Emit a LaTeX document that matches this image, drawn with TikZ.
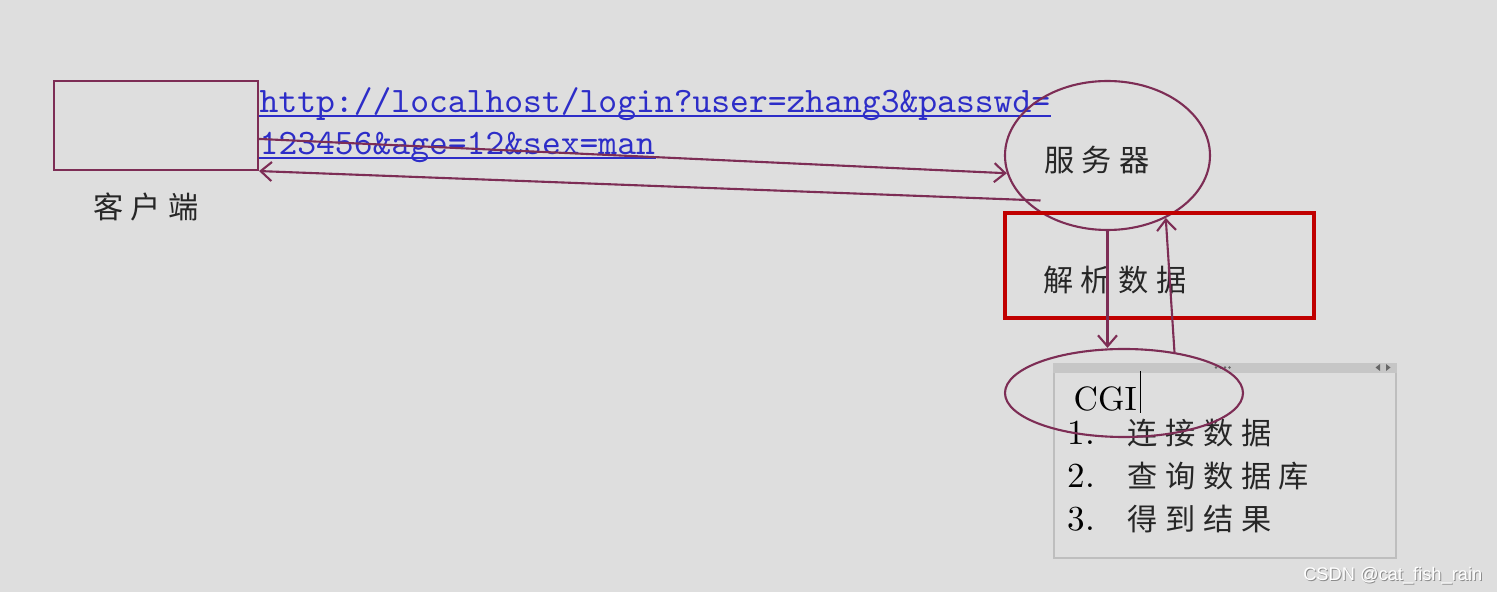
\documentclass[tikz,border=0pt]{standalone}
\usepackage{fontspec}
\newfontfamily\cjk[LetterSpace=25]{Noto Sans CJK SC}
\newfontfamily\marque{Liberation Sans}
\usetikzlibrary{calc}
\usetikzlibrary{arrows.meta}
\usetikzlibrary{shapes.geometric}
\definecolor{fond}{RGB}{222,222,222}
\definecolor{trait}{RGB}{125,45,85}
\definecolor{rouge}{RGB}{192,0,0}
\definecolor{lien}{RGB}{45,45,200}
\definecolor{cadre}{RGB}{190,190,190}
\definecolor{barre}{RGB}{198,198,198}
\tikzstyle{fleche}          =[-{Straight Barb[length=1.1mm,width=1.9mm]}, draw=trait, line width=0.6pt]
\tikzstyle{boite}           =[draw=trait, line width=0.6pt, inner sep=0, minimum width=2.04cm, minimum height=0.89cm]
\tikzstyle{bulle}           =[ellipse, draw=trait, line width=0.6pt, inner sep=0]
\tikzstyle{chinois}         =[inner sep=0, font=\cjk\fontsize{8.6pt}{10pt}\selectfont, text=black!85]
\tikzstyle{url}             =[inner sep=0, anchor=base west, font=\ttfamily\fontsize{10.2pt}{12pt}\selectfont, text=lien]

\begin{document}
\begin{tikzpicture}

%fond de l'image
\useasboundingbox (0,0) rectangle (14.97,-5.92);
\fill[fond] (0,0) rectangle (14.97,-5.92);

%%%%%%%%%%%%%%%%%%%%%%%%
%Client et adresse
%%%%%%%%%%%%%%%%%%%%%%%%

\node[boite] (client) at (1.56,-1.255) {};
\node[chinois] (clienttxt) at (1.46,-2.07) {客户端};

\node[url] (url1) at (2.59,-1.13) {http://localhost/login?user=zhang3\&passwd=};
\node[url] (url2) at (2.59,-1.55) {123456\&age=12\&sex=man};
\draw[lien, line width=0.5pt] ($(url1.base west)+(0,-0.03)$) -- ($(url1.base east)+(0,-0.03)$);
\draw[lien, line width=0.5pt] ($(url2.base west)+(0,-0.03)$) -- ($(url2.base east)+(0,-0.03)$);

%%%%%%%%%%%%%%%%%%%%%%%%
%Serveur et analyse
%%%%%%%%%%%%%%%%%%%%%%%%

\node[bulle, minimum width=2.05cm, minimum height=1.49cm] (serveur) at (11.075,-1.555) {};
\node[chinois] (serveurtxt) at (10.97,-1.60) {服务器};

\node[draw=rouge, line width=1.1pt, inner sep=0, minimum width=3.09cm, minimum height=1.05cm] (analyse) at (11.595,-2.655) {};
\node[chinois] (analysetxt) at (11.15,-2.80) {解析数据};

%%%%%%%%%%%%%%%%%%%%%%%%
%Fenetre CGI
%%%%%%%%%%%%%%%%%%%%%%%%

\node[draw=cadre, fill=fond, line width=0.6pt, inner sep=0, minimum width=3.42cm, minimum height=1.94cm, anchor=north west] (fenetre) at (10.53,-3.63) {};
\fill[barre] (fenetre.north west) rectangle ($(fenetre.north east)+(0,-0.10)$);
\foreach \a in {0,1,2,3}{\fill[black!60] (12.16+\a*0.045,-3.675) circle (0.014);}
\fill[black!60] (13.80,-3.64) -- (13.80,-3.71) -- (13.755,-3.675) -- cycle;
\fill[black!60] (13.86,-3.64) -- (13.86,-3.71) -- (13.905,-3.675) -- cycle;

\node[inner sep=0, anchor=base west, font=\fontsize{9.6pt}{11pt}\selectfont] (cgitxt) at (10.73,-4.11) {CGI};
\draw[black, line width=0.5pt] ($(cgitxt.base east)+(0.03,-0.02)$) -- ++(0,0.42);
\foreach \i/\txt in {1/连接数据,2/查询数据库,3/得到结果}{
  \node[inner sep=0, anchor=base west, font=\fontsize{10pt}{12pt}\selectfont] (num\i) at (10.67,-4.45-\i*0.43+0.43) {\i.};
  \node[chinois, anchor=base west] (item\i) at (11.27,-4.45-\i*0.43+0.43) {\txt};
}

\node[bulle, minimum width=2.38cm, minimum height=0.88cm] (cgi) at (11.24,-3.93) {};

%%%%%%%%%%%%%%%%%%%%%%%%
%Fleches
%%%%%%%%%%%%%%%%%%%%%%%%

\coordinate (depart) at ($(client.north east)+(0,-0.59)$);
\coordinate (retour) at ($(serveur.center)+(-0.67,-0.45)$);
\draw[fleche] (depart) -- (serveur.190);
\draw[fleche] (retour) -- (client.south east);
\draw[fleche] (serveur.south) -- (serveur.south |- cgi.north);
\draw[fleche] (cgi.39) -- (serveur.313);

%filigrane
\node[inner sep=0, anchor=base east, font=\marque\fontsize{5.2pt}{6pt}\selectfont, text=black!45] (ombre) at (14.84,-5.815) {CSDN @cat\_fish\_rain};
\node[inner sep=0, anchor=base east, font=\marque\fontsize{5.2pt}{6pt}\selectfont, text=white] (filigrane) at (14.83,-5.805) {CSDN @cat\_fish\_rain};

\end{tikzpicture}
\end{document}
